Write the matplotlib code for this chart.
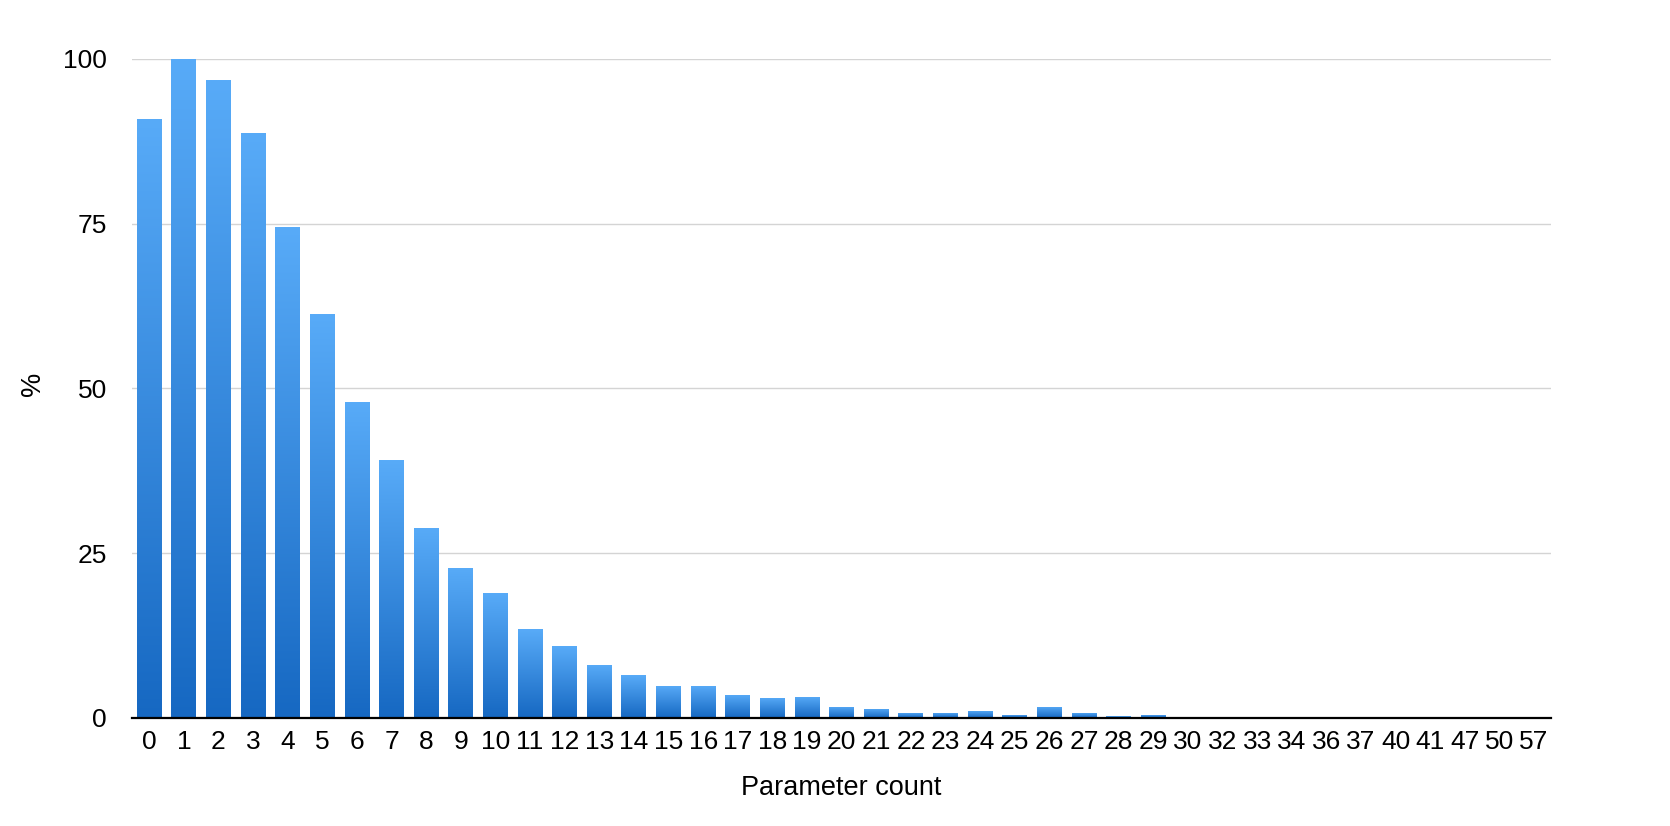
import numpy as np
import matplotlib
matplotlib.use('Agg')
import matplotlib.pyplot as plt
from matplotlib.colors import LinearSegmentedColormap

# 파라미터 개수별 비율 (%)
categories = ['0', '1', '2', '3', '4', '5', '6', '7', '8', '9',
              '10', '11', '12', '13', '14', '15', '16', '17', '18', '19',
              '20', '21', '22', '23', '24', '25', '26', '27', '28', '29',
              '30', '32', '33', '34', '36', '37', '40', '41', '47', '50', '57']
values = [90.9, 100.0, 96.8, 88.8, 74.5, 61.3, 47.9, 39.1, 28.9, 22.8,
          19.0, 13.5, 10.9, 8.1, 6.45, 4.9, 4.9, 3.55, 3.05, 3.2,
          1.7, 1.4, 0.76, 0.76, 1.07, 0.46, 1.7, 0.76, 0.3, 0.46,
          0.05, 0.05, 0.03, 0.03, 0.02, 0.02, 0.02, 0.02, 0.01, 0.01, 0.01]
yticks = [0, 25, 50, 75, 100]

plt.rcParams['font.family'] = ['Liberation Sans', 'DejaVu Sans']

fig = plt.figure(figsize=(16.7, 8.26), dpi=100)
ax = fig.add_axes([0.079, 0.1308, 0.850, 0.7978])

x = np.arange(len(categories))
bars = ax.bar(x, values, width=0.72, color='none', edgecolor='none', zorder=2)

# 막대마다 위(밝음) -> 아래(어두움) 그라데이션
cmap = LinearSegmentedColormap.from_list('blu', ['#1668c2', '#58abf8'])
grad = np.linspace(0, 1, 256).reshape(-1, 1)
for r in bars:
    bx, by = r.get_x(), r.get_y()
    bw, bh = r.get_width(), r.get_height()
    if bh <= 0:
        continue
    im = ax.imshow(grad, cmap=cmap, aspect='auto', origin='lower',
                   extent=(bx, bx + bw, by, by + bh), zorder=2)
    im.set_clip_path(r)

ax.set_xlim(-0.5, len(categories) - 0.5)
ax.set_ylim(0, 100)
ax.set_xticks(x)
ax.set_xticklabels(categories)
ax.set_yticks(yticks)
ax.set_yticklabels([str(t) for t in yticks])
ax.tick_params(axis='both', length=0, labelsize=19)
ax.tick_params(axis='x', pad=9)
ax.tick_params(axis='y', pad=18)

ax.grid(axis='y', color='#d4d4d4', linewidth=1.0, zorder=0)
ax.set_axisbelow(True)
for s in ['top', 'right', 'left']:
    ax.spines[s].set_visible(False)
ax.spines['bottom'].set_color('black')
ax.spines['bottom'].set_linewidth(1.6)
ax.spines['bottom'].set_zorder(3)

ax.set_xlabel('Parameter count', fontsize=19.5, labelpad=15)
fig.text(33 / 1670, 0.535, '%', rotation=90, fontsize=19.5, ha='center', va='center')

fig.savefig('out.png', dpi=100)
